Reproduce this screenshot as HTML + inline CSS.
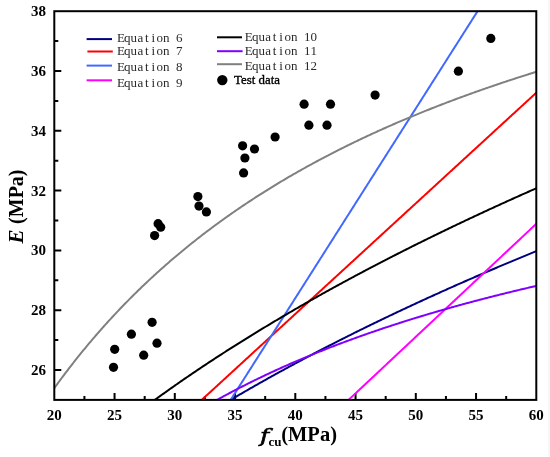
<!DOCTYPE html>
<html><head><meta charset="utf-8"><style>
html,body{margin:0;padding:0;background:#fff;width:550px;height:457px;overflow:hidden}
svg{display:block}
.tl{font-family:"Liberation Serif",serif;font-weight:bold;font-size:15px;fill:#000}
.at{font-family:"Liberation Serif",serif;font-weight:bold;font-size:20px;fill:#000}
.lg{font-family:"Liberation Serif",serif;font-size:13px;fill:#2a2a2a}
.td{font-family:"Liberation Serif",serif;font-size:13px;fill:#000;stroke:#000;stroke-width:0.35px}
</style></head><body>
<svg width="550" height="457" viewBox="0 0 550 457">
<rect x="548" y="0" width="2" height="457" fill="#f7f7f7"/>
<defs><clipPath id="c"><rect x="54.30" y="11.20" width="482.00" height="388.70"/></clipPath></defs>
<path d="M84.42,399.90V395.90M114.55,399.90V392.90M144.68,399.90V395.90M174.80,399.90V392.90M204.93,399.90V395.90M235.05,399.90V392.90M265.18,399.90V395.90M295.30,399.90V392.90M325.43,399.90V395.90M355.55,399.90V392.90M385.68,399.90V395.90M415.80,399.90V392.90M445.93,399.90V395.90M476.05,399.90V392.90M506.18,399.90V395.90M54.30,370.00H61.30M54.30,340.10H58.30M54.30,310.20H61.30M54.30,280.30H58.30M54.30,250.40H61.30M54.30,220.50H58.30M54.30,190.60H61.30M54.30,160.70H58.30M54.30,130.80H61.30M54.30,100.90H58.30M54.30,71.00H61.30M54.30,41.10H58.30" stroke="#000" stroke-width="2" fill="none"/>
<g clip-path="url(#c)" fill="none" stroke-width="2">
<path d="M54.30,523.94 L55.51,522.92 L56.71,521.89 L57.92,520.87 L59.12,519.85 L60.32,518.84 L61.53,517.82 L62.73,516.82 L63.94,515.81 L65.14,514.81 L66.35,513.81 L67.56,512.81 L68.76,511.82 L69.97,510.83 L71.17,509.85 L72.38,508.86 L73.58,507.88 L74.78,506.91 L75.99,505.93 L77.19,504.96 L78.40,503.99 L79.61,503.03 L80.81,502.07 L82.02,501.11 L83.22,500.15 L84.42,499.20 L85.63,498.25 L86.83,497.30 L88.04,496.36 L89.24,495.41 L90.45,494.47 L91.66,493.54 L92.86,492.60 L94.06,491.67 L95.27,490.74 L96.47,489.82 L97.68,488.89 L98.88,487.97 L100.09,487.05 L101.29,486.14 L102.50,485.23 L103.71,484.32 L104.91,483.41 L106.12,482.50 L107.32,481.60 L108.53,480.70 L109.73,479.80 L110.94,478.91 L112.14,478.01 L113.34,477.12 L114.55,476.23 L115.76,475.35 L116.96,474.46 L118.17,473.58 L119.37,472.70 L120.58,471.83 L121.78,470.95 L122.98,470.08 L124.19,469.21 L125.39,468.34 L126.60,467.48 L127.81,466.62 L129.01,465.75 L130.22,464.90 L131.42,464.04 L132.62,463.19 L133.83,462.33 L135.03,461.48 L136.24,460.64 L137.44,459.79 L138.65,458.95 L139.86,458.10 L141.06,457.27 L142.27,456.43 L143.47,455.59 L144.68,454.76 L145.88,453.93 L147.08,453.10 L148.29,452.27 L149.50,451.45 L150.70,450.62 L151.91,449.80 L153.11,448.98 L154.31,448.17 L155.52,447.35 L156.73,446.54 L157.93,445.72 L159.13,444.91 L160.34,444.11 L161.54,443.30 L162.75,442.50 L163.96,441.69 L165.16,440.89 L166.37,440.10 L167.57,439.30 L168.78,438.50 L169.98,437.71 L171.19,436.92 L172.39,436.13 L173.59,435.34 L174.80,434.56 L176.01,433.77 L177.21,432.99 L178.42,432.21 L179.62,431.43 L180.82,430.65 L182.03,429.88 L183.24,429.10 L184.44,428.33 L185.64,427.56 L186.85,426.79 L188.06,426.02 L189.26,425.26 L190.47,424.49 L191.67,423.73 L192.88,422.97 L194.08,422.21 L195.29,421.46 L196.49,420.70 L197.69,419.94 L198.90,419.19 L200.11,418.44 L201.31,417.69 L202.51,416.94 L203.72,416.20 L204.93,415.45 L206.13,414.71 L207.34,413.97 L208.54,413.23 L209.75,412.49 L210.95,411.75 L212.16,411.01 L213.36,410.28 L214.56,409.55 L215.77,408.82 L216.98,408.09 L218.18,407.36 L219.39,406.63 L220.59,405.91 L221.80,405.18 L223.00,404.46 L224.21,403.74 L225.41,403.02 L226.61,402.30 L227.82,401.58 L229.03,400.87 L230.23,400.15 L231.44,399.44 L232.64,398.73 L233.84,398.02 L235.05,397.31 L236.26,396.60 L237.46,395.90 L238.66,395.19 L239.87,394.49 L241.07,393.79 L242.28,393.08 L243.49,392.39 L244.69,391.69 L245.89,390.99 L247.10,390.30 L248.31,389.60 L249.51,388.91 L250.71,388.22 L251.92,387.53 L253.12,386.84 L254.33,386.15 L255.54,385.46 L256.74,384.78 L257.94,384.09 L259.15,383.41 L260.36,382.73 L261.56,382.05 L262.76,381.37 L263.97,380.69 L265.18,380.01 L266.38,379.34 L267.59,378.66 L268.79,377.99 L270.00,377.32 L271.20,376.65 L272.41,375.98 L273.61,375.31 L274.81,374.64 L276.02,373.98 L277.23,373.31 L278.43,372.65 L279.64,371.99 L280.84,371.33 L282.05,370.67 L283.25,370.01 L284.46,369.35 L285.66,368.69 L286.86,368.04 L288.07,367.38 L289.28,366.73 L290.48,366.08 L291.69,365.42 L292.89,364.77 L294.09,364.12 L295.30,363.48 L296.51,362.83 L297.71,362.18 L298.91,361.54 L300.12,360.90 L301.32,360.25 L302.53,359.61 L303.74,358.97 L304.94,358.33 L306.14,357.69 L307.35,357.06 L308.56,356.42 L309.76,355.78 L310.96,355.15 L312.17,354.52 L313.38,353.88 L314.58,353.25 L315.79,352.62 L316.99,351.99 L318.19,351.37 L319.40,350.74 L320.61,350.11 L321.81,349.49 L323.01,348.86 L324.22,348.24 L325.43,347.62 L326.63,347.00 L327.84,346.38 L329.04,345.76 L330.25,345.14 L331.45,344.52 L332.66,343.90 L333.86,343.29 L335.06,342.67 L336.27,342.06 L337.48,341.45 L338.68,340.84 L339.89,340.23 L341.09,339.62 L342.30,339.01 L343.50,338.40 L344.71,337.79 L345.91,337.19 L347.12,336.58 L348.32,335.98 L349.53,335.37 L350.73,334.77 L351.94,334.17 L353.14,333.57 L354.35,332.97 L355.55,332.37 L356.76,331.77 L357.96,331.18 L359.17,330.58 L360.37,329.98 L361.58,329.39 L362.78,328.80 L363.99,328.20 L365.19,327.61 L366.40,327.02 L367.60,326.43 L368.81,325.84 L370.01,325.25 L371.21,324.67 L372.42,324.08 L373.63,323.49 L374.83,322.91 L376.04,322.33 L377.24,321.74 L378.44,321.16 L379.65,320.58 L380.86,320.00 L382.06,319.42 L383.26,318.84 L384.47,318.26 L385.68,317.68 L386.88,317.11 L388.09,316.53 L389.29,315.95 L390.50,315.38 L391.70,314.81 L392.91,314.23 L394.11,313.66 L395.31,313.09 L396.52,312.52 L397.73,311.95 L398.93,311.38 L400.14,310.82 L401.34,310.25 L402.55,309.68 L403.75,309.12 L404.96,308.55 L406.16,307.99 L407.37,307.42 L408.57,306.86 L409.78,306.30 L410.98,305.74 L412.19,305.18 L413.39,304.62 L414.60,304.06 L415.80,303.50 L417.01,302.95 L418.21,302.39 L419.42,301.83 L420.62,301.28 L421.83,300.72 L423.03,300.17 L424.24,299.62 L425.44,299.07 L426.65,298.51 L427.85,297.96 L429.06,297.41 L430.26,296.87 L431.46,296.32 L432.67,295.77 L433.88,295.22 L435.08,294.68 L436.29,294.13 L437.49,293.59 L438.69,293.04 L439.90,292.50 L441.11,291.96 L442.31,291.41 L443.51,290.87 L444.72,290.33 L445.93,289.79 L447.13,289.25 L448.34,288.71 L449.54,288.18 L450.75,287.64 L451.95,287.10 L453.16,286.57 L454.36,286.03 L455.56,285.50 L456.77,284.96 L457.98,284.43 L459.18,283.90 L460.39,283.36 L461.59,282.83 L462.80,282.30 L464.00,281.77 L465.21,281.24 L466.41,280.72 L467.62,280.19 L468.82,279.66 L470.03,279.13 L471.23,278.61 L472.44,278.08 L473.64,277.56 L474.85,277.03 L476.05,276.51 L477.26,275.99 L478.46,275.47 L479.67,274.94 L480.87,274.42 L482.08,273.90 L483.28,273.38 L484.49,272.86 L485.69,272.35 L486.90,271.83 L488.10,271.31 L489.31,270.79 L490.51,270.28 L491.71,269.76 L492.92,269.25 L494.13,268.73 L495.33,268.22 L496.54,267.71 L497.74,267.20 L498.94,266.68 L500.15,266.17 L501.36,265.66 L502.56,265.15 L503.76,264.64 L504.97,264.14 L506.18,263.63 L507.38,263.12 L508.59,262.61 L509.79,262.11 L511.00,261.60 L512.20,261.10 L513.40,260.59 L514.61,260.09 L515.81,259.58 L517.02,259.08 L518.23,258.58 L519.43,258.08 L520.63,257.58 L521.84,257.08 L523.04,256.58 L524.25,256.08 L525.46,255.58 L526.66,255.08 L527.87,254.58 L529.07,254.09 L530.27,253.59 L531.48,253.09 L532.69,252.60 L533.89,252.10 L535.10,251.61 L536.30,251.11" stroke="#000080"/>
<path d="M54.30,535.25 L55.51,534.14 L56.71,533.04 L57.92,531.93 L59.12,530.82 L60.32,529.72 L61.53,528.61 L62.73,527.51 L63.94,526.40 L65.14,525.29 L66.35,524.19 L67.56,523.08 L68.76,521.97 L69.97,520.87 L71.17,519.76 L72.38,518.66 L73.58,517.55 L74.78,516.44 L75.99,515.34 L77.19,514.23 L78.40,513.12 L79.61,512.02 L80.81,510.91 L82.02,509.81 L83.22,508.70 L84.42,507.59 L85.63,506.49 L86.83,505.38 L88.04,504.27 L89.24,503.17 L90.45,502.06 L91.66,500.95 L92.86,499.85 L94.06,498.74 L95.27,497.64 L96.47,496.53 L97.68,495.42 L98.88,494.32 L100.09,493.21 L101.29,492.10 L102.50,491.00 L103.71,489.89 L104.91,488.79 L106.12,487.68 L107.32,486.57 L108.53,485.47 L109.73,484.36 L110.94,483.25 L112.14,482.15 L113.34,481.04 L114.55,479.93 L115.76,478.83 L116.96,477.72 L118.17,476.62 L119.37,475.51 L120.58,474.40 L121.78,473.30 L122.98,472.19 L124.19,471.08 L125.39,469.98 L126.60,468.87 L127.81,467.77 L129.01,466.66 L130.22,465.55 L131.42,464.45 L132.62,463.34 L133.83,462.23 L135.03,461.13 L136.24,460.02 L137.44,458.92 L138.65,457.81 L139.86,456.70 L141.06,455.60 L142.27,454.49 L143.47,453.38 L144.68,452.28 L145.88,451.17 L147.08,450.06 L148.29,448.96 L149.50,447.85 L150.70,446.75 L151.91,445.64 L153.11,444.53 L154.31,443.43 L155.52,442.32 L156.73,441.21 L157.93,440.11 L159.13,439.00 L160.34,437.90 L161.54,436.79 L162.75,435.68 L163.96,434.58 L165.16,433.47 L166.37,432.36 L167.57,431.26 L168.78,430.15 L169.98,429.05 L171.19,427.94 L172.39,426.83 L173.59,425.73 L174.80,424.62 L176.01,423.51 L177.21,422.41 L178.42,421.30 L179.62,420.19 L180.82,419.09 L182.03,417.98 L183.24,416.88 L184.44,415.77 L185.64,414.66 L186.85,413.56 L188.06,412.45 L189.26,411.34 L190.47,410.24 L191.67,409.13 L192.88,408.03 L194.08,406.92 L195.29,405.81 L196.49,404.71 L197.69,403.60 L198.90,402.49 L200.11,401.39 L201.31,400.28 L202.51,399.18 L203.72,398.07 L204.93,396.96 L206.13,395.86 L207.34,394.75 L208.54,393.64 L209.75,392.54 L210.95,391.43 L212.16,390.32 L213.36,389.22 L214.56,388.11 L215.77,387.01 L216.98,385.90 L218.18,384.79 L219.39,383.69 L220.59,382.58 L221.80,381.47 L223.00,380.37 L224.21,379.26 L225.41,378.16 L226.61,377.05 L227.82,375.94 L229.03,374.84 L230.23,373.73 L231.44,372.62 L232.64,371.52 L233.84,370.41 L235.05,369.31 L236.26,368.20 L237.46,367.09 L238.66,365.99 L239.87,364.88 L241.07,363.77 L242.28,362.67 L243.49,361.56 L244.69,360.45 L245.89,359.35 L247.10,358.24 L248.31,357.14 L249.51,356.03 L250.71,354.92 L251.92,353.82 L253.12,352.71 L254.33,351.60 L255.54,350.50 L256.74,349.39 L257.94,348.29 L259.15,347.18 L260.36,346.07 L261.56,344.97 L262.76,343.86 L263.97,342.75 L265.18,341.65 L266.38,340.54 L267.59,339.43 L268.79,338.33 L270.00,337.22 L271.20,336.12 L272.41,335.01 L273.61,333.90 L274.81,332.80 L276.02,331.69 L277.23,330.58 L278.43,329.48 L279.64,328.37 L280.84,327.27 L282.05,326.16 L283.25,325.05 L284.46,323.95 L285.66,322.84 L286.86,321.73 L288.07,320.63 L289.28,319.52 L290.48,318.42 L291.69,317.31 L292.89,316.20 L294.09,315.10 L295.30,313.99 L296.51,312.88 L297.71,311.78 L298.91,310.67 L300.12,309.56 L301.32,308.46 L302.53,307.35 L303.74,306.25 L304.94,305.14 L306.14,304.03 L307.35,302.93 L308.56,301.82 L309.76,300.71 L310.96,299.61 L312.17,298.50 L313.38,297.40 L314.58,296.29 L315.79,295.18 L316.99,294.08 L318.19,292.97 L319.40,291.86 L320.61,290.76 L321.81,289.65 L323.01,288.55 L324.22,287.44 L325.43,286.33 L326.63,285.23 L327.84,284.12 L329.04,283.01 L330.25,281.91 L331.45,280.80 L332.66,279.69 L333.86,278.59 L335.06,277.48 L336.27,276.38 L337.48,275.27 L338.68,274.16 L339.89,273.06 L341.09,271.95 L342.30,270.84 L343.50,269.74 L344.71,268.63 L345.91,267.53 L347.12,266.42 L348.32,265.31 L349.53,264.21 L350.73,263.10 L351.94,261.99 L353.14,260.89 L354.35,259.78 L355.55,258.68 L356.76,257.57 L357.96,256.46 L359.17,255.36 L360.37,254.25 L361.58,253.14 L362.78,252.04 L363.99,250.93 L365.19,249.82 L366.40,248.72 L367.60,247.61 L368.81,246.51 L370.01,245.40 L371.21,244.29 L372.42,243.19 L373.63,242.08 L374.83,240.97 L376.04,239.87 L377.24,238.76 L378.44,237.66 L379.65,236.55 L380.86,235.44 L382.06,234.34 L383.26,233.23 L384.47,232.12 L385.68,231.02 L386.88,229.91 L388.09,228.80 L389.29,227.70 L390.50,226.59 L391.70,225.49 L392.91,224.38 L394.11,223.27 L395.31,222.17 L396.52,221.06 L397.73,219.95 L398.93,218.85 L400.14,217.74 L401.34,216.64 L402.55,215.53 L403.75,214.42 L404.96,213.32 L406.16,212.21 L407.37,211.10 L408.57,210.00 L409.78,208.89 L410.98,207.79 L412.19,206.68 L413.39,205.57 L414.60,204.47 L415.80,203.36 L417.01,202.25 L418.21,201.15 L419.42,200.04 L420.62,198.93 L421.83,197.83 L423.03,196.72 L424.24,195.62 L425.44,194.51 L426.65,193.40 L427.85,192.30 L429.06,191.19 L430.26,190.08 L431.46,188.98 L432.67,187.87 L433.88,186.77 L435.08,185.66 L436.29,184.55 L437.49,183.45 L438.69,182.34 L439.90,181.23 L441.11,180.13 L442.31,179.02 L443.51,177.92 L444.72,176.81 L445.93,175.70 L447.13,174.60 L448.34,173.49 L449.54,172.38 L450.75,171.28 L451.95,170.17 L453.16,169.06 L454.36,167.96 L455.56,166.85 L456.77,165.75 L457.98,164.64 L459.18,163.53 L460.39,162.43 L461.59,161.32 L462.80,160.21 L464.00,159.11 L465.21,158.00 L466.41,156.90 L467.62,155.79 L468.82,154.68 L470.03,153.58 L471.23,152.47 L472.44,151.36 L473.64,150.26 L474.85,149.15 L476.05,148.04 L477.26,146.94 L478.46,145.83 L479.67,144.73 L480.87,143.62 L482.08,142.51 L483.28,141.41 L484.49,140.30 L485.69,139.19 L486.90,138.09 L488.10,136.98 L489.31,135.88 L490.51,134.77 L491.71,133.66 L492.92,132.56 L494.13,131.45 L495.33,130.34 L496.54,129.24 L497.74,128.13 L498.94,127.03 L500.15,125.92 L501.36,124.81 L502.56,123.71 L503.76,122.60 L504.97,121.49 L506.18,120.39 L507.38,119.28 L508.59,118.17 L509.79,117.07 L511.00,115.96 L512.20,114.86 L513.40,113.75 L514.61,112.64 L515.81,111.54 L517.02,110.43 L518.23,109.32 L519.43,108.22 L520.63,107.11 L521.84,106.01 L523.04,104.90 L524.25,103.79 L525.46,102.69 L526.66,101.58 L527.87,100.47 L529.07,99.37 L530.27,98.26 L531.48,97.16 L532.69,96.05 L533.89,94.94 L535.10,93.84 L536.30,92.73" stroke="#ff0000"/>
<path d="M54.30,677.54 L55.51,675.64 L56.71,673.74 L57.92,671.85 L59.12,669.95 L60.32,668.05 L61.53,666.16 L62.73,664.26 L63.94,662.36 L65.14,660.47 L66.35,658.57 L67.56,656.67 L68.76,654.78 L69.97,652.88 L71.17,650.98 L72.38,649.08 L73.58,647.19 L74.78,645.29 L75.99,643.39 L77.19,641.50 L78.40,639.60 L79.61,637.70 L80.81,635.81 L82.02,633.91 L83.22,632.01 L84.42,630.11 L85.63,628.22 L86.83,626.32 L88.04,624.42 L89.24,622.53 L90.45,620.63 L91.66,618.73 L92.86,616.84 L94.06,614.94 L95.27,613.04 L96.47,611.15 L97.68,609.25 L98.88,607.35 L100.09,605.45 L101.29,603.56 L102.50,601.66 L103.71,599.76 L104.91,597.87 L106.12,595.97 L107.32,594.07 L108.53,592.18 L109.73,590.28 L110.94,588.38 L112.14,586.49 L113.34,584.59 L114.55,582.69 L115.76,580.79 L116.96,578.90 L118.17,577.00 L119.37,575.10 L120.58,573.21 L121.78,571.31 L122.98,569.41 L124.19,567.52 L125.39,565.62 L126.60,563.72 L127.81,561.82 L129.01,559.93 L130.22,558.03 L131.42,556.13 L132.62,554.24 L133.83,552.34 L135.03,550.44 L136.24,548.55 L137.44,546.65 L138.65,544.75 L139.86,542.86 L141.06,540.96 L142.27,539.06 L143.47,537.16 L144.68,535.27 L145.88,533.37 L147.08,531.47 L148.29,529.58 L149.50,527.68 L150.70,525.78 L151.91,523.89 L153.11,521.99 L154.31,520.09 L155.52,518.20 L156.73,516.30 L157.93,514.40 L159.13,512.50 L160.34,510.61 L161.54,508.71 L162.75,506.81 L163.96,504.92 L165.16,503.02 L166.37,501.12 L167.57,499.23 L168.78,497.33 L169.98,495.43 L171.19,493.53 L172.39,491.64 L173.59,489.74 L174.80,487.84 L176.01,485.95 L177.21,484.05 L178.42,482.15 L179.62,480.26 L180.82,478.36 L182.03,476.46 L183.24,474.57 L184.44,472.67 L185.64,470.77 L186.85,468.87 L188.06,466.98 L189.26,465.08 L190.47,463.18 L191.67,461.29 L192.88,459.39 L194.08,457.49 L195.29,455.60 L196.49,453.70 L197.69,451.80 L198.90,449.91 L200.11,448.01 L201.31,446.11 L202.51,444.21 L203.72,442.32 L204.93,440.42 L206.13,438.52 L207.34,436.63 L208.54,434.73 L209.75,432.83 L210.95,430.94 L212.16,429.04 L213.36,427.14 L214.56,425.24 L215.77,423.35 L216.98,421.45 L218.18,419.55 L219.39,417.66 L220.59,415.76 L221.80,413.86 L223.00,411.97 L224.21,410.07 L225.41,408.17 L226.61,406.28 L227.82,404.38 L229.03,402.48 L230.23,400.58 L231.44,398.69 L232.64,396.79 L233.84,394.89 L235.05,393.00 L236.26,391.10 L237.46,389.20 L238.66,387.31 L239.87,385.41 L241.07,383.51 L242.28,381.62 L243.49,379.72 L244.69,377.82 L245.89,375.92 L247.10,374.03 L248.31,372.13 L249.51,370.23 L250.71,368.34 L251.92,366.44 L253.12,364.54 L254.33,362.65 L255.54,360.75 L256.74,358.85 L257.94,356.95 L259.15,355.06 L260.36,353.16 L261.56,351.26 L262.76,349.37 L263.97,347.47 L265.18,345.57 L266.38,343.68 L267.59,341.78 L268.79,339.88 L270.00,337.99 L271.20,336.09 L272.41,334.19 L273.61,332.29 L274.81,330.40 L276.02,328.50 L277.23,326.60 L278.43,324.71 L279.64,322.81 L280.84,320.91 L282.05,319.02 L283.25,317.12 L284.46,315.22 L285.66,313.33 L286.86,311.43 L288.07,309.53 L289.28,307.63 L290.48,305.74 L291.69,303.84 L292.89,301.94 L294.09,300.05 L295.30,298.15 L296.51,296.25 L297.71,294.36 L298.91,292.46 L300.12,290.56 L301.32,288.66 L302.53,286.77 L303.74,284.87 L304.94,282.97 L306.14,281.08 L307.35,279.18 L308.56,277.28 L309.76,275.39 L310.96,273.49 L312.17,271.59 L313.38,269.70 L314.58,267.80 L315.79,265.90 L316.99,264.00 L318.19,262.11 L319.40,260.21 L320.61,258.31 L321.81,256.42 L323.01,254.52 L324.22,252.62 L325.43,250.73 L326.63,248.83 L327.84,246.93 L329.04,245.04 L330.25,243.14 L331.45,241.24 L332.66,239.34 L333.86,237.45 L335.06,235.55 L336.27,233.65 L337.48,231.76 L338.68,229.86 L339.89,227.96 L341.09,226.07 L342.30,224.17 L343.50,222.27 L344.71,220.37 L345.91,218.48 L347.12,216.58 L348.32,214.68 L349.53,212.79 L350.73,210.89 L351.94,208.99 L353.14,207.10 L354.35,205.20 L355.55,203.30 L356.76,201.41 L357.96,199.51 L359.17,197.61 L360.37,195.71 L361.58,193.82 L362.78,191.92 L363.99,190.02 L365.19,188.13 L366.40,186.23 L367.60,184.33 L368.81,182.44 L370.01,180.54 L371.21,178.64 L372.42,176.74 L373.63,174.85 L374.83,172.95 L376.04,171.05 L377.24,169.16 L378.44,167.26 L379.65,165.36 L380.86,163.47 L382.06,161.57 L383.26,159.67 L384.47,157.78 L385.68,155.88 L386.88,153.98 L388.09,152.08 L389.29,150.19 L390.50,148.29 L391.70,146.39 L392.91,144.50 L394.11,142.60 L395.31,140.70 L396.52,138.81 L397.73,136.91 L398.93,135.01 L400.14,133.12 L401.34,131.22 L402.55,129.32 L403.75,127.42 L404.96,125.53 L406.16,123.63 L407.37,121.73 L408.57,119.84 L409.78,117.94 L410.98,116.04 L412.19,114.15 L413.39,112.25 L414.60,110.35 L415.80,108.45 L417.01,106.56 L418.21,104.66 L419.42,102.76 L420.62,100.87 L421.83,98.97 L423.03,97.07 L424.24,95.18 L425.44,93.28 L426.65,91.38 L427.85,89.49 L429.06,87.59 L430.26,85.69 L431.46,83.79 L432.67,81.90 L433.88,80.00 L435.08,78.10 L436.29,76.21 L437.49,74.31 L438.69,72.41 L439.90,70.52 L441.11,68.62 L442.31,66.72 L443.51,64.83 L444.72,62.93 L445.93,61.03 L447.13,59.13 L448.34,57.24 L449.54,55.34 L450.75,53.44 L451.95,51.55 L453.16,49.65 L454.36,47.75 L455.56,45.86 L456.77,43.96 L457.98,42.06 L459.18,40.16 L460.39,38.27 L461.59,36.37 L462.80,34.47 L464.00,32.58 L465.21,30.68 L466.41,28.78 L467.62,26.89 L468.82,24.99 L470.03,23.09 L471.23,21.20 L472.44,19.30 L473.64,17.40 L474.85,15.50 L476.05,13.61 L477.26,11.71 L478.46,9.81 L479.67,7.92 L480.87,6.02 L482.08,4.12 L483.28,2.23 L484.49,0.33 L485.69,-1.57 L486.90,-3.46 L488.10,-5.36 L489.31,-7.26 L490.51,-9.16 L491.71,-11.05 L492.92,-12.95 L494.13,-14.85 L495.33,-16.74 L496.54,-18.64 L497.74,-20.54 L498.94,-22.43 L500.15,-24.33 L501.36,-26.23 L502.56,-28.13 L503.76,-30.02 L504.97,-31.92 L506.18,-33.82 L507.38,-35.71 L508.59,-37.61 L509.79,-39.51 L511.00,-41.40 L512.20,-43.30 L513.40,-45.20 L514.61,-47.09 L515.81,-48.99 L517.02,-50.89 L518.23,-52.79 L519.43,-54.68 L520.63,-56.58 L521.84,-58.48 L523.04,-60.37 L524.25,-62.27 L525.46,-64.17 L526.66,-66.06 L527.87,-67.96 L529.07,-69.86 L530.27,-71.75 L531.48,-73.65 L532.69,-75.55 L533.89,-77.45 L535.10,-79.34 L536.30,-81.24" stroke="#4169ff"/>
<path d="M54.30,675.92 L55.51,674.79 L56.71,673.66 L57.92,672.53 L59.12,671.40 L60.32,670.27 L61.53,669.14 L62.73,668.01 L63.94,666.88 L65.14,665.75 L66.35,664.62 L67.56,663.49 L68.76,662.36 L69.97,661.23 L71.17,660.10 L72.38,658.97 L73.58,657.84 L74.78,656.71 L75.99,655.58 L77.19,654.45 L78.40,653.32 L79.61,652.19 L80.81,651.06 L82.02,649.93 L83.22,648.79 L84.42,647.66 L85.63,646.53 L86.83,645.40 L88.04,644.27 L89.24,643.14 L90.45,642.01 L91.66,640.88 L92.86,639.75 L94.06,638.62 L95.27,637.49 L96.47,636.36 L97.68,635.23 L98.88,634.10 L100.09,632.97 L101.29,631.84 L102.50,630.71 L103.71,629.58 L104.91,628.45 L106.12,627.32 L107.32,626.19 L108.53,625.06 L109.73,623.93 L110.94,622.80 L112.14,621.67 L113.34,620.54 L114.55,619.41 L115.76,618.28 L116.96,617.15 L118.17,616.02 L119.37,614.89 L120.58,613.76 L121.78,612.63 L122.98,611.50 L124.19,610.37 L125.39,609.24 L126.60,608.11 L127.81,606.98 L129.01,605.85 L130.22,604.72 L131.42,603.59 L132.62,602.46 L133.83,601.33 L135.03,600.20 L136.24,599.07 L137.44,597.94 L138.65,596.80 L139.86,595.67 L141.06,594.54 L142.27,593.41 L143.47,592.28 L144.68,591.15 L145.88,590.02 L147.08,588.89 L148.29,587.76 L149.50,586.63 L150.70,585.50 L151.91,584.37 L153.11,583.24 L154.31,582.11 L155.52,580.98 L156.73,579.85 L157.93,578.72 L159.13,577.59 L160.34,576.46 L161.54,575.33 L162.75,574.20 L163.96,573.07 L165.16,571.94 L166.37,570.81 L167.57,569.68 L168.78,568.55 L169.98,567.42 L171.19,566.29 L172.39,565.16 L173.59,564.03 L174.80,562.90 L176.01,561.77 L177.21,560.64 L178.42,559.51 L179.62,558.38 L180.82,557.25 L182.03,556.12 L183.24,554.99 L184.44,553.86 L185.64,552.73 L186.85,551.60 L188.06,550.47 L189.26,549.34 L190.47,548.21 L191.67,547.08 L192.88,545.94 L194.08,544.81 L195.29,543.68 L196.49,542.55 L197.69,541.42 L198.90,540.29 L200.11,539.16 L201.31,538.03 L202.51,536.90 L203.72,535.77 L204.93,534.64 L206.13,533.51 L207.34,532.38 L208.54,531.25 L209.75,530.12 L210.95,528.99 L212.16,527.86 L213.36,526.73 L214.56,525.60 L215.77,524.47 L216.98,523.34 L218.18,522.21 L219.39,521.08 L220.59,519.95 L221.80,518.82 L223.00,517.69 L224.21,516.56 L225.41,515.43 L226.61,514.30 L227.82,513.17 L229.03,512.04 L230.23,510.91 L231.44,509.78 L232.64,508.65 L233.84,507.52 L235.05,506.39 L236.26,505.26 L237.46,504.13 L238.66,503.00 L239.87,501.87 L241.07,500.74 L242.28,499.61 L243.49,498.48 L244.69,497.35 L245.89,496.22 L247.10,495.08 L248.31,493.95 L249.51,492.82 L250.71,491.69 L251.92,490.56 L253.12,489.43 L254.33,488.30 L255.54,487.17 L256.74,486.04 L257.94,484.91 L259.15,483.78 L260.36,482.65 L261.56,481.52 L262.76,480.39 L263.97,479.26 L265.18,478.13 L266.38,477.00 L267.59,475.87 L268.79,474.74 L270.00,473.61 L271.20,472.48 L272.41,471.35 L273.61,470.22 L274.81,469.09 L276.02,467.96 L277.23,466.83 L278.43,465.70 L279.64,464.57 L280.84,463.44 L282.05,462.31 L283.25,461.18 L284.46,460.05 L285.66,458.92 L286.86,457.79 L288.07,456.66 L289.28,455.53 L290.48,454.40 L291.69,453.27 L292.89,452.14 L294.09,451.01 L295.30,449.88 L296.51,448.75 L297.71,447.62 L298.91,446.49 L300.12,445.36 L301.32,444.23 L302.53,443.09 L303.74,441.96 L304.94,440.83 L306.14,439.70 L307.35,438.57 L308.56,437.44 L309.76,436.31 L310.96,435.18 L312.17,434.05 L313.38,432.92 L314.58,431.79 L315.79,430.66 L316.99,429.53 L318.19,428.40 L319.40,427.27 L320.61,426.14 L321.81,425.01 L323.01,423.88 L324.22,422.75 L325.43,421.62 L326.63,420.49 L327.84,419.36 L329.04,418.23 L330.25,417.10 L331.45,415.97 L332.66,414.84 L333.86,413.71 L335.06,412.58 L336.27,411.45 L337.48,410.32 L338.68,409.19 L339.89,408.06 L341.09,406.93 L342.30,405.80 L343.50,404.67 L344.71,403.54 L345.91,402.41 L347.12,401.28 L348.32,400.15 L349.53,399.02 L350.73,397.89 L351.94,396.76 L353.14,395.63 L354.35,394.50 L355.55,393.37 L356.76,392.23 L357.96,391.10 L359.17,389.97 L360.37,388.84 L361.58,387.71 L362.78,386.58 L363.99,385.45 L365.19,384.32 L366.40,383.19 L367.60,382.06 L368.81,380.93 L370.01,379.80 L371.21,378.67 L372.42,377.54 L373.63,376.41 L374.83,375.28 L376.04,374.15 L377.24,373.02 L378.44,371.89 L379.65,370.76 L380.86,369.63 L382.06,368.50 L383.26,367.37 L384.47,366.24 L385.68,365.11 L386.88,363.98 L388.09,362.85 L389.29,361.72 L390.50,360.59 L391.70,359.46 L392.91,358.33 L394.11,357.20 L395.31,356.07 L396.52,354.94 L397.73,353.81 L398.93,352.68 L400.14,351.55 L401.34,350.42 L402.55,349.29 L403.75,348.16 L404.96,347.03 L406.16,345.90 L407.37,344.77 L408.57,343.64 L409.78,342.51 L410.98,341.38 L412.19,340.24 L413.39,339.11 L414.60,337.98 L415.80,336.85 L417.01,335.72 L418.21,334.59 L419.42,333.46 L420.62,332.33 L421.83,331.20 L423.03,330.07 L424.24,328.94 L425.44,327.81 L426.65,326.68 L427.85,325.55 L429.06,324.42 L430.26,323.29 L431.46,322.16 L432.67,321.03 L433.88,319.90 L435.08,318.77 L436.29,317.64 L437.49,316.51 L438.69,315.38 L439.90,314.25 L441.11,313.12 L442.31,311.99 L443.51,310.86 L444.72,309.73 L445.93,308.60 L447.13,307.47 L448.34,306.34 L449.54,305.21 L450.75,304.08 L451.95,302.95 L453.16,301.82 L454.36,300.69 L455.56,299.56 L456.77,298.43 L457.98,297.30 L459.18,296.17 L460.39,295.04 L461.59,293.91 L462.80,292.78 L464.00,291.65 L465.21,290.52 L466.41,289.38 L467.62,288.25 L468.82,287.12 L470.03,285.99 L471.23,284.86 L472.44,283.73 L473.64,282.60 L474.85,281.47 L476.05,280.34 L477.26,279.21 L478.46,278.08 L479.67,276.95 L480.87,275.82 L482.08,274.69 L483.28,273.56 L484.49,272.43 L485.69,271.30 L486.90,270.17 L488.10,269.04 L489.31,267.91 L490.51,266.78 L491.71,265.65 L492.92,264.52 L494.13,263.39 L495.33,262.26 L496.54,261.13 L497.74,260.00 L498.94,258.87 L500.15,257.74 L501.36,256.61 L502.56,255.48 L503.76,254.35 L504.97,253.22 L506.18,252.09 L507.38,250.96 L508.59,249.83 L509.79,248.70 L511.00,247.57 L512.20,246.44 L513.40,245.31 L514.61,244.18 L515.81,243.05 L517.02,241.92 L518.23,240.79 L519.43,239.66 L520.63,238.53 L521.84,237.39 L523.04,236.26 L524.25,235.13 L525.46,234.00 L526.66,232.87 L527.87,231.74 L529.07,230.61 L530.27,229.48 L531.48,228.35 L532.69,227.22 L533.89,226.09 L535.10,224.96 L536.30,223.83" stroke="#ff00ff"/>
<path d="M54.30,481.68 L55.51,480.58 L56.71,479.48 L57.92,478.38 L59.12,477.28 L60.32,476.19 L61.53,475.11 L62.73,474.03 L63.94,472.95 L65.14,471.87 L66.35,470.80 L67.56,469.73 L68.76,468.66 L69.97,467.60 L71.17,466.54 L72.38,465.48 L73.58,464.43 L74.78,463.38 L75.99,462.34 L77.19,461.29 L78.40,460.25 L79.61,459.22 L80.81,458.18 L82.02,457.15 L83.22,456.13 L84.42,455.10 L85.63,454.08 L86.83,453.06 L88.04,452.05 L89.24,451.04 L90.45,450.03 L91.66,449.02 L92.86,448.02 L94.06,447.02 L95.27,446.02 L96.47,445.02 L97.68,444.03 L98.88,443.04 L100.09,442.06 L101.29,441.07 L102.50,440.09 L103.71,439.11 L104.91,438.14 L106.12,437.16 L107.32,436.19 L108.53,435.23 L109.73,434.26 L110.94,433.30 L112.14,432.34 L113.34,431.38 L114.55,430.43 L115.76,429.48 L116.96,428.53 L118.17,427.58 L119.37,426.64 L120.58,425.69 L121.78,424.75 L122.98,423.82 L124.19,422.88 L125.39,421.95 L126.60,421.02 L127.81,420.09 L129.01,419.17 L130.22,418.25 L131.42,417.33 L132.62,416.41 L133.83,415.49 L135.03,414.58 L136.24,413.67 L137.44,412.76 L138.65,411.85 L139.86,410.95 L141.06,410.05 L142.27,409.15 L143.47,408.25 L144.68,407.35 L145.88,406.46 L147.08,405.57 L148.29,404.68 L149.50,403.79 L150.70,402.91 L151.91,402.02 L153.11,401.14 L154.31,400.26 L155.52,399.39 L156.73,398.51 L157.93,397.64 L159.13,396.77 L160.34,395.90 L161.54,395.04 L162.75,394.17 L163.96,393.31 L165.16,392.45 L166.37,391.59 L167.57,390.73 L168.78,389.88 L169.98,389.03 L171.19,388.18 L172.39,387.33 L173.59,386.48 L174.80,385.64 L176.01,384.79 L177.21,383.95 L178.42,383.11 L179.62,382.28 L180.82,381.44 L182.03,380.61 L183.24,379.77 L184.44,378.94 L185.64,378.12 L186.85,377.29 L188.06,376.46 L189.26,375.64 L190.47,374.82 L191.67,374.00 L192.88,373.18 L194.08,372.37 L195.29,371.55 L196.49,370.74 L197.69,369.93 L198.90,369.12 L200.11,368.31 L201.31,367.51 L202.51,366.70 L203.72,365.90 L204.93,365.10 L206.13,364.30 L207.34,363.50 L208.54,362.71 L209.75,361.91 L210.95,361.12 L212.16,360.33 L213.36,359.54 L214.56,358.75 L215.77,357.96 L216.98,357.18 L218.18,356.39 L219.39,355.61 L220.59,354.83 L221.80,354.05 L223.00,353.28 L224.21,352.50 L225.41,351.73 L226.61,350.96 L227.82,350.18 L229.03,349.41 L230.23,348.65 L231.44,347.88 L232.64,347.11 L233.84,346.35 L235.05,345.59 L236.26,344.83 L237.46,344.07 L238.66,343.31 L239.87,342.55 L241.07,341.80 L242.28,341.05 L243.49,340.29 L244.69,339.54 L245.89,338.79 L247.10,338.05 L248.31,337.30 L249.51,336.55 L250.71,335.81 L251.92,335.07 L253.12,334.33 L254.33,333.59 L255.54,332.85 L256.74,332.11 L257.94,331.38 L259.15,330.64 L260.36,329.91 L261.56,329.18 L262.76,328.45 L263.97,327.72 L265.18,326.99 L266.38,326.26 L267.59,325.54 L268.79,324.81 L270.00,324.09 L271.20,323.37 L272.41,322.65 L273.61,321.93 L274.81,321.21 L276.02,320.50 L277.23,319.78 L278.43,319.07 L279.64,318.36 L280.84,317.64 L282.05,316.93 L283.25,316.22 L284.46,315.52 L285.66,314.81 L286.86,314.10 L288.07,313.40 L289.28,312.70 L290.48,312.00 L291.69,311.30 L292.89,310.60 L294.09,309.90 L295.30,309.20 L296.51,308.50 L297.71,307.81 L298.91,307.12 L300.12,306.42 L301.32,305.73 L302.53,305.04 L303.74,304.35 L304.94,303.67 L306.14,302.98 L307.35,302.29 L308.56,301.61 L309.76,300.92 L310.96,300.24 L312.17,299.56 L313.38,298.88 L314.58,298.20 L315.79,297.52 L316.99,296.85 L318.19,296.17 L319.40,295.50 L320.61,294.82 L321.81,294.15 L323.01,293.48 L324.22,292.81 L325.43,292.14 L326.63,291.47 L327.84,290.80 L329.04,290.14 L330.25,289.47 L331.45,288.81 L332.66,288.14 L333.86,287.48 L335.06,286.82 L336.27,286.16 L337.48,285.50 L338.68,284.84 L339.89,284.19 L341.09,283.53 L342.30,282.88 L343.50,282.22 L344.71,281.57 L345.91,280.92 L347.12,280.27 L348.32,279.62 L349.53,278.97 L350.73,278.32 L351.94,277.67 L353.14,277.03 L354.35,276.38 L355.55,275.74 L356.76,275.09 L357.96,274.45 L359.17,273.81 L360.37,273.17 L361.58,272.53 L362.78,271.89 L363.99,271.25 L365.19,270.62 L366.40,269.98 L367.60,269.34 L368.81,268.71 L370.01,268.08 L371.21,267.45 L372.42,266.81 L373.63,266.18 L374.83,265.55 L376.04,264.93 L377.24,264.30 L378.44,263.67 L379.65,263.05 L380.86,262.42 L382.06,261.80 L383.26,261.17 L384.47,260.55 L385.68,259.93 L386.88,259.31 L388.09,258.69 L389.29,258.07 L390.50,257.45 L391.70,256.84 L392.91,256.22 L394.11,255.60 L395.31,254.99 L396.52,254.38 L397.73,253.76 L398.93,253.15 L400.14,252.54 L401.34,251.93 L402.55,251.32 L403.75,250.71 L404.96,250.10 L406.16,249.50 L407.37,248.89 L408.57,248.28 L409.78,247.68 L410.98,247.08 L412.19,246.47 L413.39,245.87 L414.60,245.27 L415.80,244.67 L417.01,244.07 L418.21,243.47 L419.42,242.87 L420.62,242.28 L421.83,241.68 L423.03,241.08 L424.24,240.49 L425.44,239.89 L426.65,239.30 L427.85,238.71 L429.06,238.12 L430.26,237.52 L431.46,236.93 L432.67,236.35 L433.88,235.76 L435.08,235.17 L436.29,234.58 L437.49,233.99 L438.69,233.41 L439.90,232.82 L441.11,232.24 L442.31,231.66 L443.51,231.07 L444.72,230.49 L445.93,229.91 L447.13,229.33 L448.34,228.75 L449.54,228.17 L450.75,227.59 L451.95,227.02 L453.16,226.44 L454.36,225.86 L455.56,225.29 L456.77,224.71 L457.98,224.14 L459.18,223.57 L460.39,222.99 L461.59,222.42 L462.80,221.85 L464.00,221.28 L465.21,220.71 L466.41,220.14 L467.62,219.57 L468.82,219.00 L470.03,218.44 L471.23,217.87 L472.44,217.31 L473.64,216.74 L474.85,216.18 L476.05,215.61 L477.26,215.05 L478.46,214.49 L479.67,213.93 L480.87,213.37 L482.08,212.81 L483.28,212.25 L484.49,211.69 L485.69,211.13 L486.90,210.57 L488.10,210.02 L489.31,209.46 L490.51,208.90 L491.71,208.35 L492.92,207.80 L494.13,207.24 L495.33,206.69 L496.54,206.14 L497.74,205.59 L498.94,205.04 L500.15,204.49 L501.36,203.94 L502.56,203.39 L503.76,202.84 L504.97,202.29 L506.18,201.74 L507.38,201.20 L508.59,200.65 L509.79,200.11 L511.00,199.56 L512.20,199.02 L513.40,198.48 L514.61,197.93 L515.81,197.39 L517.02,196.85 L518.23,196.31 L519.43,195.77 L520.63,195.23 L521.84,194.69 L523.04,194.15 L524.25,193.62 L525.46,193.08 L526.66,192.54 L527.87,192.01 L529.07,191.47 L530.27,190.94 L531.48,190.40 L532.69,189.87 L533.89,189.34 L535.10,188.80 L536.30,188.27" stroke="#000000"/>
<path d="M54.30,525.73 L55.51,524.44 L56.71,523.15 L57.92,521.87 L59.12,520.60 L60.32,519.33 L61.53,518.08 L62.73,516.83 L63.94,515.58 L65.14,514.35 L66.35,513.12 L67.56,511.89 L68.76,510.68 L69.97,509.47 L71.17,508.27 L72.38,507.07 L73.58,505.88 L74.78,504.70 L75.99,503.53 L77.19,502.36 L78.40,501.20 L79.61,500.04 L80.81,498.89 L82.02,497.75 L83.22,496.61 L84.42,495.48 L85.63,494.35 L86.83,493.23 L88.04,492.12 L89.24,491.01 L90.45,489.91 L91.66,488.82 L92.86,487.73 L94.06,486.65 L95.27,485.57 L96.47,484.50 L97.68,483.43 L98.88,482.37 L100.09,481.31 L101.29,480.26 L102.50,479.22 L103.71,478.18 L104.91,477.15 L106.12,476.12 L107.32,475.10 L108.53,474.08 L109.73,473.07 L110.94,472.06 L112.14,471.06 L113.34,470.06 L114.55,469.07 L115.76,468.09 L116.96,467.10 L118.17,466.13 L119.37,465.16 L120.58,464.19 L121.78,463.23 L122.98,462.27 L124.19,461.32 L125.39,460.37 L126.60,459.43 L127.81,458.49 L129.01,457.55 L130.22,456.62 L131.42,455.70 L132.62,454.78 L133.83,453.86 L135.03,452.95 L136.24,452.05 L137.44,451.15 L138.65,450.25 L139.86,449.35 L141.06,448.46 L142.27,447.58 L143.47,446.70 L144.68,445.82 L145.88,444.95 L147.08,444.08 L148.29,443.22 L149.50,442.36 L150.70,441.50 L151.91,440.65 L153.11,439.80 L154.31,438.96 L155.52,438.12 L156.73,437.28 L157.93,436.45 L159.13,435.62 L160.34,434.80 L161.54,433.98 L162.75,433.16 L163.96,432.35 L165.16,431.54 L166.37,430.73 L167.57,429.93 L168.78,429.13 L169.98,428.34 L171.19,427.55 L172.39,426.76 L173.59,425.98 L174.80,425.20 L176.01,424.42 L177.21,423.65 L178.42,422.88 L179.62,422.11 L180.82,421.35 L182.03,420.59 L183.24,419.83 L184.44,419.08 L185.64,418.33 L186.85,417.58 L188.06,416.84 L189.26,416.10 L190.47,415.36 L191.67,414.63 L192.88,413.90 L194.08,413.17 L195.29,412.45 L196.49,411.73 L197.69,411.01 L198.90,410.30 L200.11,409.59 L201.31,408.88 L202.51,408.17 L203.72,407.47 L204.93,406.77 L206.13,406.08 L207.34,405.38 L208.54,404.69 L209.75,404.01 L210.95,403.32 L212.16,402.64 L213.36,401.96 L214.56,401.28 L215.77,400.61 L216.98,399.94 L218.18,399.27 L219.39,398.61 L220.59,397.95 L221.80,397.29 L223.00,396.63 L224.21,395.98 L225.41,395.33 L226.61,394.68 L227.82,394.03 L229.03,393.39 L230.23,392.75 L231.44,392.11 L232.64,391.48 L233.84,390.85 L235.05,390.22 L236.26,389.59 L237.46,388.96 L238.66,388.34 L239.87,387.72 L241.07,387.10 L242.28,386.49 L243.49,385.88 L244.69,385.27 L245.89,384.66 L247.10,384.05 L248.31,383.45 L249.51,382.85 L250.71,382.25 L251.92,381.66 L253.12,381.06 L254.33,380.47 L255.54,379.88 L256.74,379.30 L257.94,378.71 L259.15,378.13 L260.36,377.55 L261.56,376.98 L262.76,376.40 L263.97,375.83 L265.18,375.26 L266.38,374.69 L267.59,374.12 L268.79,373.56 L270.00,373.00 L271.20,372.44 L272.41,371.88 L273.61,371.32 L274.81,370.77 L276.02,370.22 L277.23,369.67 L278.43,369.12 L279.64,368.58 L280.84,368.03 L282.05,367.49 L283.25,366.96 L284.46,366.42 L285.66,365.88 L286.86,365.35 L288.07,364.82 L289.28,364.29 L290.48,363.76 L291.69,363.24 L292.89,362.72 L294.09,362.19 L295.30,361.68 L296.51,361.16 L297.71,360.64 L298.91,360.13 L300.12,359.62 L301.32,359.11 L302.53,358.60 L303.74,358.09 L304.94,357.59 L306.14,357.09 L307.35,356.59 L308.56,356.09 L309.76,355.59 L310.96,355.10 L312.17,354.60 L313.38,354.11 L314.58,353.62 L315.79,353.13 L316.99,352.65 L318.19,352.16 L319.40,351.68 L320.61,351.20 L321.81,350.72 L323.01,350.24 L324.22,349.76 L325.43,349.29 L326.63,348.82 L327.84,348.34 L329.04,347.87 L330.25,347.41 L331.45,346.94 L332.66,346.48 L333.86,346.01 L335.06,345.55 L336.27,345.09 L337.48,344.63 L338.68,344.18 L339.89,343.72 L341.09,343.27 L342.30,342.82 L343.50,342.37 L344.71,341.92 L345.91,341.47 L347.12,341.02 L348.32,340.58 L349.53,340.14 L350.73,339.70 L351.94,339.26 L353.14,338.82 L354.35,338.38 L355.55,337.95 L356.76,337.51 L357.96,337.08 L359.17,336.65 L360.37,336.22 L361.58,335.79 L362.78,335.36 L363.99,334.94 L365.19,334.52 L366.40,334.09 L367.60,333.67 L368.81,333.25 L370.01,332.83 L371.21,332.42 L372.42,332.00 L373.63,331.59 L374.83,331.18 L376.04,330.76 L377.24,330.35 L378.44,329.94 L379.65,329.54 L380.86,329.13 L382.06,328.73 L383.26,328.32 L384.47,327.92 L385.68,327.52 L386.88,327.12 L388.09,326.72 L389.29,326.33 L390.50,325.93 L391.70,325.54 L392.91,325.14 L394.11,324.75 L395.31,324.36 L396.52,323.97 L397.73,323.58 L398.93,323.20 L400.14,322.81 L401.34,322.43 L402.55,322.04 L403.75,321.66 L404.96,321.28 L406.16,320.90 L407.37,320.52 L408.57,320.14 L409.78,319.77 L410.98,319.39 L412.19,319.02 L413.39,318.65 L414.60,318.28 L415.80,317.91 L417.01,317.54 L418.21,317.17 L419.42,316.80 L420.62,316.44 L421.83,316.07 L423.03,315.71 L424.24,315.35 L425.44,314.98 L426.65,314.62 L427.85,314.27 L429.06,313.91 L430.26,313.55 L431.46,313.20 L432.67,312.84 L433.88,312.49 L435.08,312.13 L436.29,311.78 L437.49,311.43 L438.69,311.08 L439.90,310.74 L441.11,310.39 L442.31,310.04 L443.51,309.70 L444.72,309.35 L445.93,309.01 L447.13,308.67 L448.34,308.33 L449.54,307.99 L450.75,307.65 L451.95,307.31 L453.16,306.97 L454.36,306.64 L455.56,306.30 L456.77,305.97 L457.98,305.64 L459.18,305.30 L460.39,304.97 L461.59,304.64 L462.80,304.31 L464.00,303.99 L465.21,303.66 L466.41,303.33 L467.62,303.01 L468.82,302.68 L470.03,302.36 L471.23,302.04 L472.44,301.72 L473.64,301.39 L474.85,301.08 L476.05,300.76 L477.26,300.44 L478.46,300.12 L479.67,299.81 L480.87,299.49 L482.08,299.18 L483.28,298.86 L484.49,298.55 L485.69,298.24 L486.90,297.93 L488.10,297.62 L489.31,297.31 L490.51,297.00 L491.71,296.70 L492.92,296.39 L494.13,296.08 L495.33,295.78 L496.54,295.48 L497.74,295.17 L498.94,294.87 L500.15,294.57 L501.36,294.27 L502.56,293.97 L503.76,293.67 L504.97,293.37 L506.18,293.08 L507.38,292.78 L508.59,292.49 L509.79,292.19 L511.00,291.90 L512.20,291.60 L513.40,291.31 L514.61,291.02 L515.81,290.73 L517.02,290.44 L518.23,290.15 L519.43,289.87 L520.63,289.58 L521.84,289.29 L523.04,289.01 L524.25,288.72 L525.46,288.44 L526.66,288.15 L527.87,287.87 L529.07,287.59 L530.27,287.31 L531.48,287.03 L532.69,286.75 L533.89,286.47 L535.10,286.19 L536.30,285.91" stroke="#8000ff"/>
<path d="M54.30,388.15 L55.51,386.48 L56.71,384.82 L57.92,383.17 L59.12,381.53 L60.32,379.89 L61.53,378.27 L62.73,376.65 L63.94,375.04 L65.14,373.45 L66.35,371.86 L67.56,370.28 L68.76,368.70 L69.97,367.14 L71.17,365.58 L72.38,364.04 L73.58,362.50 L74.78,360.97 L75.99,359.44 L77.19,357.93 L78.40,356.42 L79.61,354.93 L80.81,353.43 L82.02,351.95 L83.22,350.48 L84.42,349.01 L85.63,347.55 L86.83,346.10 L88.04,344.65 L89.24,343.22 L90.45,341.79 L91.66,340.36 L92.86,338.95 L94.06,337.54 L95.27,336.14 L96.47,334.75 L97.68,333.36 L98.88,331.98 L100.09,330.61 L101.29,329.24 L102.50,327.89 L103.71,326.53 L104.91,325.19 L106.12,323.85 L107.32,322.52 L108.53,321.19 L109.73,319.88 L110.94,318.56 L112.14,317.26 L113.34,315.96 L114.55,314.67 L115.76,313.38 L116.96,312.10 L118.17,310.83 L119.37,309.56 L120.58,308.30 L121.78,307.04 L122.98,305.79 L124.19,304.55 L125.39,303.31 L126.60,302.08 L127.81,300.85 L129.01,299.64 L130.22,298.42 L131.42,297.21 L132.62,296.01 L133.83,294.81 L135.03,293.62 L136.24,292.44 L137.44,291.26 L138.65,290.08 L139.86,288.91 L141.06,287.75 L142.27,286.59 L143.47,285.44 L144.68,284.29 L145.88,283.15 L147.08,282.01 L148.29,280.88 L149.50,279.75 L150.70,278.63 L151.91,277.52 L153.11,276.41 L154.31,275.30 L155.52,274.20 L156.73,273.10 L157.93,272.01 L159.13,270.93 L160.34,269.84 L161.54,268.77 L162.75,267.70 L163.96,266.63 L165.16,265.57 L166.37,264.51 L167.57,263.46 L168.78,262.41 L169.98,261.36 L171.19,260.33 L172.39,259.29 L173.59,258.26 L174.80,257.24 L176.01,256.21 L177.21,255.20 L178.42,254.19 L179.62,253.18 L180.82,252.17 L182.03,251.18 L183.24,250.18 L184.44,249.19 L185.64,248.20 L186.85,247.22 L188.06,246.24 L189.26,245.27 L190.47,244.30 L191.67,243.34 L192.88,242.38 L194.08,241.42 L195.29,240.46 L196.49,239.52 L197.69,238.57 L198.90,237.63 L200.11,236.69 L201.31,235.76 L202.51,234.83 L203.72,233.90 L204.93,232.98 L206.13,232.06 L207.34,231.15 L208.54,230.24 L209.75,229.33 L210.95,228.43 L212.16,227.53 L213.36,226.63 L214.56,225.74 L215.77,224.85 L216.98,223.97 L218.18,223.09 L219.39,222.21 L220.59,221.34 L221.80,220.47 L223.00,219.60 L224.21,218.73 L225.41,217.87 L226.61,217.02 L227.82,216.16 L229.03,215.31 L230.23,214.47 L231.44,213.62 L232.64,212.79 L233.84,211.95 L235.05,211.12 L236.26,210.29 L237.46,209.46 L238.66,208.64 L239.87,207.82 L241.07,207.00 L242.28,206.18 L243.49,205.37 L244.69,204.57 L245.89,203.76 L247.10,202.96 L248.31,202.16 L249.51,201.37 L250.71,200.58 L251.92,199.79 L253.12,199.00 L254.33,198.22 L255.54,197.44 L256.74,196.66 L257.94,195.89 L259.15,195.11 L260.36,194.35 L261.56,193.58 L262.76,192.82 L263.97,192.06 L265.18,191.30 L266.38,190.55 L267.59,189.80 L268.79,189.05 L270.00,188.30 L271.20,187.56 L272.41,186.82 L273.61,186.08 L274.81,185.35 L276.02,184.62 L277.23,183.89 L278.43,183.16 L279.64,182.44 L280.84,181.72 L282.05,181.00 L283.25,180.28 L284.46,179.57 L285.66,178.86 L286.86,178.15 L288.07,177.44 L289.28,176.74 L290.48,176.04 L291.69,175.34 L292.89,174.65 L294.09,173.96 L295.30,173.26 L296.51,172.58 L297.71,171.89 L298.91,171.21 L300.12,170.53 L301.32,169.85 L302.53,169.17 L303.74,168.50 L304.94,167.83 L306.14,167.16 L307.35,166.49 L308.56,165.83 L309.76,165.17 L310.96,164.51 L312.17,163.85 L313.38,163.20 L314.58,162.55 L315.79,161.90 L316.99,161.25 L318.19,160.60 L319.40,159.96 L320.61,159.32 L321.81,158.68 L323.01,158.04 L324.22,157.41 L325.43,156.78 L326.63,156.15 L327.84,155.52 L329.04,154.89 L330.25,154.27 L331.45,153.65 L332.66,153.03 L333.86,152.41 L335.06,151.79 L336.27,151.18 L337.48,150.57 L338.68,149.96 L339.89,149.35 L341.09,148.75 L342.30,148.14 L343.50,147.54 L344.71,146.94 L345.91,146.35 L347.12,145.75 L348.32,145.16 L349.53,144.57 L350.73,143.98 L351.94,143.39 L353.14,142.81 L354.35,142.22 L355.55,141.64 L356.76,141.06 L357.96,140.49 L359.17,139.91 L360.37,139.34 L361.58,138.76 L362.78,138.19 L363.99,137.63 L365.19,137.06 L366.40,136.49 L367.60,135.93 L368.81,135.37 L370.01,134.81 L371.21,134.26 L372.42,133.70 L373.63,133.15 L374.83,132.59 L376.04,132.04 L377.24,131.50 L378.44,130.95 L379.65,130.40 L380.86,129.86 L382.06,129.32 L383.26,128.78 L384.47,128.24 L385.68,127.71 L386.88,127.17 L388.09,126.64 L389.29,126.11 L390.50,125.58 L391.70,125.05 L392.91,124.52 L394.11,124.00 L395.31,123.48 L396.52,122.95 L397.73,122.43 L398.93,121.92 L400.14,121.40 L401.34,120.88 L402.55,120.37 L403.75,119.86 L404.96,119.35 L406.16,118.84 L407.37,118.33 L408.57,117.83 L409.78,117.32 L410.98,116.82 L412.19,116.32 L413.39,115.82 L414.60,115.32 L415.80,114.83 L417.01,114.33 L418.21,113.84 L419.42,113.35 L420.62,112.86 L421.83,112.37 L423.03,111.88 L424.24,111.40 L425.44,110.91 L426.65,110.43 L427.85,109.95 L429.06,109.47 L430.26,108.99 L431.46,108.51 L432.67,108.04 L433.88,107.56 L435.08,107.09 L436.29,106.62 L437.49,106.15 L438.69,105.68 L439.90,105.21 L441.11,104.74 L442.31,104.28 L443.51,103.82 L444.72,103.35 L445.93,102.89 L447.13,102.43 L448.34,101.98 L449.54,101.52 L450.75,101.06 L451.95,100.61 L453.16,100.16 L454.36,99.71 L455.56,99.26 L456.77,98.81 L457.98,98.36 L459.18,97.91 L460.39,97.47 L461.59,97.03 L462.80,96.58 L464.00,96.14 L465.21,95.70 L466.41,95.27 L467.62,94.83 L468.82,94.39 L470.03,93.96 L471.23,93.52 L472.44,93.09 L473.64,92.66 L474.85,92.23 L476.05,91.80 L477.26,91.37 L478.46,90.95 L479.67,90.52 L480.87,90.10 L482.08,89.68 L483.28,89.26 L484.49,88.84 L485.69,88.42 L486.90,88.00 L488.10,87.58 L489.31,87.17 L490.51,86.75 L491.71,86.34 L492.92,85.93 L494.13,85.52 L495.33,85.11 L496.54,84.70 L497.74,84.29 L498.94,83.88 L500.15,83.48 L501.36,83.07 L502.56,82.67 L503.76,82.27 L504.97,81.87 L506.18,81.47 L507.38,81.07 L508.59,80.67 L509.79,80.27 L511.00,79.88 L512.20,79.48 L513.40,79.09 L514.61,78.70 L515.81,78.31 L517.02,77.92 L518.23,77.53 L519.43,77.14 L520.63,76.75 L521.84,76.37 L523.04,75.98 L524.25,75.60 L525.46,75.22 L526.66,74.83 L527.87,74.45 L529.07,74.07 L530.27,73.69 L531.48,73.32 L532.69,72.94 L533.89,72.56 L535.10,72.19 L536.30,71.82" stroke="#808080"/>
</g>
<g fill="#000">
<circle cx="152.1" cy="322.3" r="4.6"/>
<circle cx="131.4" cy="334.2" r="4.6"/>
<circle cx="157.0" cy="343.2" r="4.6"/>
<circle cx="114.7" cy="349.3" r="4.6"/>
<circle cx="143.7" cy="355.2" r="4.6"/>
<circle cx="113.5" cy="367.3" r="4.6"/>
<circle cx="197.9" cy="196.6" r="4.6"/>
<circle cx="199.0" cy="206.1" r="4.6"/>
<circle cx="206.4" cy="211.9" r="4.6"/>
<circle cx="158.1" cy="223.7" r="4.6"/>
<circle cx="160.7" cy="227.2" r="4.6"/>
<circle cx="154.6" cy="235.6" r="4.6"/>
<circle cx="304.1" cy="104.2" r="4.6"/>
<circle cx="330.5" cy="104.2" r="4.6"/>
<circle cx="308.9" cy="125.2" r="4.6"/>
<circle cx="327.0" cy="125.2" r="4.6"/>
<circle cx="275.1" cy="137.0" r="4.6"/>
<circle cx="242.6" cy="145.8" r="4.6"/>
<circle cx="254.5" cy="149.0" r="4.6"/>
<circle cx="244.9" cy="158.0" r="4.6"/>
<circle cx="243.6" cy="172.9" r="4.6"/>
<circle cx="490.8" cy="38.4" r="4.6"/>
<circle cx="458.4" cy="71.2" r="4.6"/>
<circle cx="375.1" cy="95.1" r="4.6"/>
</g>
<rect x="54.30" y="11.20" width="482.00" height="388.70" fill="none" stroke="#000" stroke-width="2"/>
<g class="tl"><text x="46" y="375.00" text-anchor="end">26</text><text x="46" y="315.20" text-anchor="end">28</text><text x="46" y="255.40" text-anchor="end">30</text><text x="46" y="195.60" text-anchor="end">32</text><text x="46" y="135.80" text-anchor="end">34</text><text x="46" y="76.00" text-anchor="end">36</text><text x="46" y="16.20" text-anchor="end">38</text><text x="54.30" y="419.5" text-anchor="middle">20</text><text x="114.55" y="419.5" text-anchor="middle">25</text><text x="174.80" y="419.5" text-anchor="middle">30</text><text x="235.05" y="419.5" text-anchor="middle">35</text><text x="295.30" y="419.5" text-anchor="middle">40</text><text x="355.55" y="419.5" text-anchor="middle">45</text><text x="415.80" y="419.5" text-anchor="middle">50</text><text x="476.05" y="419.5" text-anchor="middle">55</text><text x="536.30" y="419.5" text-anchor="middle">60</text></g>
<g transform="translate(23.2,0) rotate(-90)"><text class="at" x="-243.6" y="0" style="font-style:italic;font-size:21px">E</text><text class="at" x="-223.9" y="0">(MPa)</text></g>
<g transform="translate(260,441.7)"><text transform="scale(1.3,1)" font-family="DejaVu Serif" font-style="italic" font-size="19.2" stroke="#000" stroke-width="0.6">f</text></g>
<text class="at" x="268.6" y="446.3" style="font-size:13px">cu</text>
<text class="at" x="281.2" y="441.3" style="font-size:20.5px">(MPa)</text>
<path d="M86.6,39.1H112" stroke="#000080" stroke-width="2"/>
<text class="lg" x="116.88 124.10 130.60 137.46 145.04 151.54 156.60 163.10 171.22 176.10" y="42.0">Equation 6</text>
<path d="M87.39999999999999,51.5H112.8" stroke="#ff0000" stroke-width="2"/>
<text class="lg" x="116.88 124.10 130.60 137.46 145.04 151.54 156.60 163.10 171.22 176.10" y="55.4">Equation 7</text>
<path d="M86.6,65.6H112" stroke="#4169ff" stroke-width="2"/>
<text class="lg" x="116.88 124.10 130.60 137.46 145.04 151.54 156.60 163.10 171.22 176.10" y="70.9">Equation 8</text>
<path d="M86.6,80.3H112" stroke="#ff00ff" stroke-width="2"/>
<text class="lg" x="116.88 124.10 130.60 137.46 145.04 151.54 156.60 163.10 171.22 176.10" y="86.8">Equation 9</text>
<path d="M217,37.3H242" stroke="#000000" stroke-width="2"/>
<text class="lg" x="244.68 251.90 258.40 265.26 272.84 279.34 284.40 290.90 299.02 303.90 310.40" y="40.6">Equation 10</text>
<path d="M217,51.2H242.6" stroke="#8000ff" stroke-width="2"/>
<text class="lg" x="244.68 251.90 258.40 265.26 272.84 279.34 284.40 290.90 299.02 303.90 310.40" y="55.0">Equation 11</text>
<path d="M217,64.2H242" stroke="#808080" stroke-width="2"/>
<text class="lg" x="244.68 251.90 258.40 265.26 272.84 279.34 284.40 290.90 299.02 303.90 310.40" y="70.3">Equation 12</text>
<circle cx="222.3" cy="80.1" r="5.2"/>
<text class="td" x="234" y="83.5" textLength="46" lengthAdjust="spacingAndGlyphs">Test data</text>
</svg>
</body></html>
